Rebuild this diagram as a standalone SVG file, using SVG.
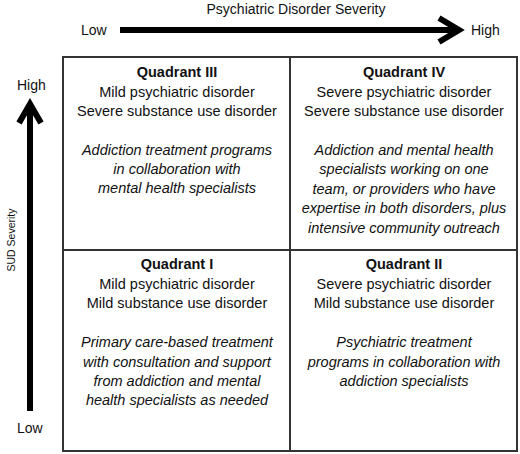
<svg xmlns="http://www.w3.org/2000/svg" width="520" height="454" viewBox="0 0 520 454">
<style>
text{font-family:"Liberation Sans",Arial,sans-serif;fill:#111;}
.t{font-size:14.5px;text-anchor:middle;}
.b{font-weight:bold;}
.i{font-style:italic;}
.ax{font-size:14px;}
.cell{fill:#fff;stroke:#333;stroke-width:2;}
.arr{fill:none;stroke:#000;stroke-width:6;}
</style>
<rect width="520" height="454" fill="#fff"/>
<g id="axes">
<text class="ax" x="296" y="14" text-anchor="middle">Psychiatric Disorder Severity</text>
<text class="ax" x="81" y="35">Low</text>
<text class="ax" x="471" y="35">High</text>
<text class="ax" x="17" y="90">High</text>
<text class="ax" x="17" y="433">Low</text>
<text x="15" y="240" font-size="10.5" text-anchor="middle" transform="rotate(-90 15 240)">SUD Severity</text>
</g>
<g id="connectors">
<path class="arr" d="M120 30 H457"/>
<path class="arr" d="M439 18 L459 30 L439 42"/>
<path class="arr" d="M30 411 V106"/>
<path class="arr" d="M19 123 L30 104 L41 123"/>
</g>
<g id="q3">
<rect class="cell" x="63" y="57" width="227" height="193"/>
<text class="t b" x="177" y="77">Quadrant III</text>
<text class="t" x="177" y="97">Mild psychiatric disorder</text>
<text class="t" x="177" y="116">Severe substance use disorder</text>
<text class="t i" x="177" y="155">Addiction treatment programs</text>
<text class="t i" x="177" y="174">in collaboration with</text>
<text class="t i" x="177" y="193">mental health specialists</text>
</g>
<g id="q4">
<rect class="cell" x="290" y="57" width="227" height="193"/>
<text class="t b" x="404" y="77">Quadrant IV</text>
<text class="t" x="404" y="97">Severe psychiatric disorder</text>
<text class="t" x="404" y="116">Severe substance use disorder</text>
<text class="t i" x="404" y="155">Addiction and mental health</text>
<text class="t i" x="404" y="174">specialists working on one</text>
<text class="t i" x="404" y="194">team, or providers who have</text>
<text class="t i" x="404" y="213">expertise in both disorders, plus</text>
<text class="t i" x="404" y="233">intensive community outreach</text>
</g>
<g id="q1">
<rect class="cell" x="63" y="250" width="227" height="201"/>
<text class="t b" x="177" y="269">Quadrant I</text>
<text class="t" x="177" y="289">Mild psychiatric disorder</text>
<text class="t" x="177" y="308">Mild substance use disorder</text>
<text class="t i" x="177" y="347">Primary care-based treatment</text>
<text class="t i" x="177" y="367">with consultation and support</text>
<text class="t i" x="177" y="386">from addiction and mental</text>
<text class="t i" x="177" y="405">health specialists as needed</text>
</g>
<g id="q2">
<rect class="cell" x="290" y="250" width="227" height="201"/>
<text class="t b" x="404" y="269">Quadrant II</text>
<text class="t" x="404" y="289">Severe psychiatric disorder</text>
<text class="t" x="404" y="308">Mild substance use disorder</text>
<text class="t i" x="404" y="347">Psychiatric treatment</text>
<text class="t i" x="404" y="367">programs in collaboration with</text>
<text class="t i" x="404" y="386">addiction specialists</text>
</g>
</svg>
